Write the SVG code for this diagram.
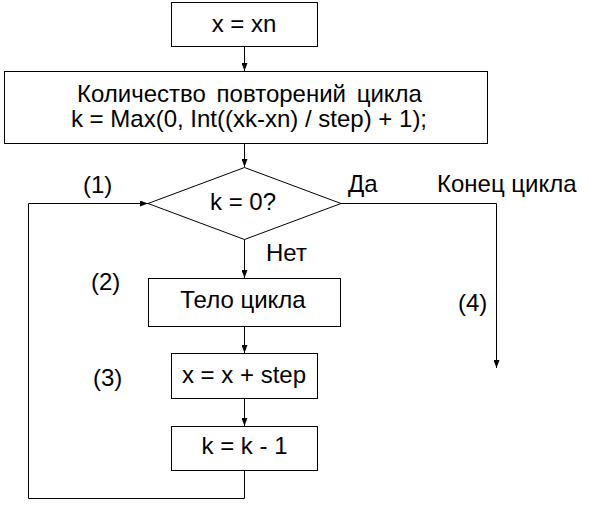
<svg xmlns="http://www.w3.org/2000/svg" width="589" height="509" viewBox="0 0 589 509">
<style>
.box{fill:#fff;stroke:#000;stroke-width:1}
.ln{fill:none;stroke:#000;stroke-width:1}
text{font-family:"Liberation Sans",Arial,sans-serif;font-size:24px;fill:#000}
.c{text-anchor:middle}
</style>
<defs>
<marker id="ah" viewBox="0 0 8 6" refX="8" refY="3" markerWidth="8" markerHeight="6" markerUnits="userSpaceOnUse" orient="auto">
<path d="M0,0 L8,3 L0,6 Z" fill="#000"/>
</marker>
</defs>
<rect width="589" height="509" fill="#fff"/>
<g id="connectors">
<line class="ln" x1="244.5" y1="46" x2="244.5" y2="71" marker-end="url(#ah)"/>
<line class="ln" x1="244.5" y1="143" x2="244.5" y2="167" marker-end="url(#ah)"/>
<line class="ln" x1="244.5" y1="239" x2="244.5" y2="278" marker-end="url(#ah)"/>
<line class="ln" x1="244.5" y1="326" x2="244.5" y2="353" marker-end="url(#ah)"/>
<line class="ln" x1="244.5" y1="398" x2="244.5" y2="426" marker-end="url(#ah)"/>
<polyline class="ln" points="244.5,470 244.5,498.5 28.5,498.5 28.5,203.5 148,203.5" marker-end="url(#ah)"/>
<polyline class="ln" points="341,203.5 496.5,203.5 496.5,368" marker-end="url(#ah)"/>
</g>
<g id="n1">
<rect class="box" x="171.5" y="2.5" width="146" height="44"/>
<text class="c" x="244" y="32">x = xn</text>
</g>
<g id="n2">
<rect class="box" x="4.5" y="71.5" width="483" height="72"/>
<text class="c" x="249.5" y="102" word-spacing="4">Количество повторений цикла</text>
<text class="c" x="249" y="127">k = Max(0, Int((xk-xn) / step) + 1);</text>
</g>
<g id="n3">
<polygon class="box" points="244.5,167.5 341,203.5 244.5,239.5 148,203.5"/>
<text class="c" x="243" y="210">k = 0?</text>
</g>
<g id="n4">
<rect class="box" x="148.5" y="278.5" width="192" height="48"/>
<text class="c" x="243" y="308">Тело цикла</text>
</g>
<g id="n5">
<rect class="box" x="171.5" y="353.5" width="146" height="45"/>
<text class="c" x="244" y="383">x = x + step</text>
</g>
<g id="n6">
<rect class="box" x="171.5" y="426.5" width="146" height="44"/>
<text class="c" x="244.5" y="454">k = k - 1</text>
</g>
<g id="labels">
<text x="266" y="261">Нет</text>
<text x="348" y="192">Да</text>
<text x="437" y="192">Конец цикла</text>
<text x="83" y="193">(1)</text>
<text x="91" y="290">(2)</text>
<text x="93" y="386">(3)</text>
<text x="458" y="311">(4)</text>
</g>
</svg>
